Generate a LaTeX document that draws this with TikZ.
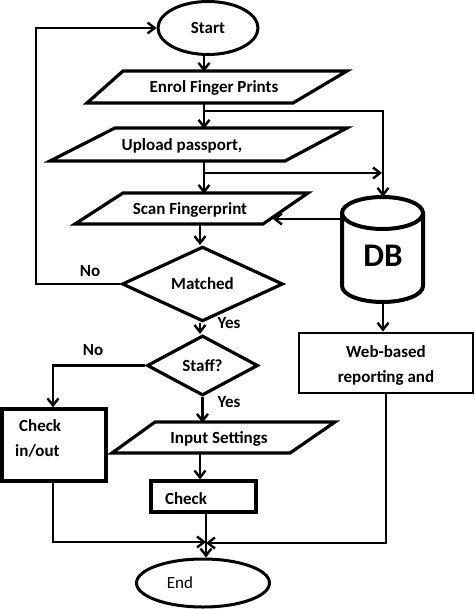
\documentclass[tikz,border=0pt]{standalone}
\usepackage{fontspec}
\setmainfont{Carlito}
\usetikzlibrary{arrows.meta,shapes.geometric}
\begin{document}
\begin{tikzpicture}[x=1pt,y=-1pt,
  line/.style={line width=2.4pt,line join=miter},
  arr/.style={line, -{Straight Barb[length=7pt,width=11pt,line width=2.4pt]}},
  para/.style={line width=3.2pt,line join=miter},
  txt/.style={font=\fontsize{17}{19}\selectfont\bfseries,inner sep=0pt},
  lbl/.style={font=\fontsize{17}{19}\selectfont\bfseries,inner sep=0pt},
  box/.style={draw,line width=3.4pt,rectangle,inner sep=0pt},
  dia/.style={draw,diamond,line width=3.2pt,inner sep=0pt,font=\fontsize{17}{19}\selectfont\bfseries}]
\useasboundingbox (0,0) rectangle (474,609);

% terminals
\node[draw,ellipse,line width=3pt,minimum width=100pt,minimum height=53pt,txt] (start) at (208,28) {Start};
\node[draw,ellipse,line width=3pt,minimum width=133pt,minimum height=48pt,inner sep=0pt] (end) at (203,583) {};
\node[font=\fontsize{17}{19}\selectfont,inner sep=0pt] (endtxt) at (180,583) {End};

% parallelograms (shape drawn, node for text / anchors)
\draw[para] (123,71) -- (347,71) -- (293,103) -- (87,103) -- cycle;
\node[txt,minimum height=32pt] (enrol) at (214,88) {Enrol Finger Prints};
\draw[para] (115,128) -- (347,128) -- (285,161) -- (50,161) -- cycle;
\node[txt,minimum height=33pt] (upload) at (182,145.5) {Upload passport,};
\draw[para] (123,193) -- (308,193) -- (263,224) -- (75,224) -- cycle;
\node[txt,minimum height=31pt] (scan) at (190,209.5) {Scan Fingerprint};
\draw[para] (155,422) -- (335,422) -- (290,453) -- (112,453) -- cycle;
\node[txt,minimum height=31pt] (input) at (219,438.5) {Input Settings};

% decisions
\node[dia,minimum width=161pt,minimum height=61pt] (matched) at (202.5,284) {Matched};
\node[dia,minimum width=111pt,minimum height=60pt] (staff) at (202.5,365.5) {Staff?};

% boxes
\node[box,minimum width=104pt,minimum height=72pt] (chkio) at (54,445) {};
\node[txt,align=left,anchor=north west,font=\fontsize{17}{25}\selectfont\bfseries] (chkiotxt) at (15,419) {\hspace{4pt}Check\\in/out};
\node[box,minimum width=105pt,minimum height=31pt,line width=3.2pt] (check) at (203.5,496.5) {};
\node[txt] (checktxt) at (186,498.5) {Check};
\node[draw,rectangle,line width=2.8pt,minimum width=174pt,minimum height=60pt,inner sep=0pt] (web) at (386,363) {};
\node[txt,align=center,font=\fontsize{17}{25}\selectfont\bfseries] (webtxt) at (386,365) {Web-based\\reporting and};

% database cylinder
\node[minimum width=81pt,minimum height=105pt,inner sep=0pt] (db) at (382.5,249.5) {};
\draw[line width=4pt] (342,213) -- (342,286) arc[start angle=180,end angle=360,x radius=40.5pt,y radius=16pt] -- (423,213);
\draw[line width=4pt] (382.5,213) ellipse[x radius=40.5pt,y radius=16pt];
\node[font=\fontsize{33}{35}\selectfont\bfseries,inner sep=0pt] (dbtxt) at (383,256) {DB};

% helper coordinates
\coordinate (cA) at (204,0);
\coordinate (cB) at (200,0);
\coordinate (cC) at (206,0);
\coordinate (cD) at (383,0);
\coordinate (cE) at (386,0);
\coordinate (loopx) at (36,0);
\coordinate (nox) at (53,0);
\coordinate (br1) at (0,111);
\coordinate (br2) at (0,173);
\coordinate (dbin) at (0,219);
\coordinate (mg1) at (0,542);
\coordinate (mg2) at (0,543);
\coordinate (scanr) at (273,219);

% connectors
\draw[arr] (start.south -| cA) -- (enrol.north -| cA);
\draw[arr] (enrol.south -| cA) -- (upload.north -| cA);
\draw[arr] (br1 -| cA) -- (br1 -| cD) -- (db.north -| cD);
\draw[arr] (upload.south -| cA) -- (scan.north -| cA);
\draw[arr] (br2 -| cA) -- ([xshift=-1pt]br2 -| cD);
\draw[arr] (dbin -| db.west) -- (scanr);
\draw[arr] (scan.south -| cB) -- (matched.north -| cB);
\draw[arr] (matched.west) -- (matched.west -| loopx) -- (start.west -| loopx) -- (start.west);
\draw[arr] (matched.south -| cB) -- (staff.north -| cB);
\draw[arr] (staff.west) -- (staff.west -| nox) -- (chkio.north -| nox);
\draw[arr] (staff.south) -- (input.north -| staff.south);
\draw[arr] (input.south -| cB) -- (check.north -| cB);
\draw[arr] (check.south -| cC) -- (end.north -| cC);
\draw[arr] (chkio.south -| nox) -- (mg1 -| nox) -- (mg1 -| cC);
\draw[arr] (web.south -| cE) -- (mg2 -| cE) -- (mg2 -| cC);
\draw[arr] (db.south -| cD) -- (web.north -| cD);

% labels
\node[lbl] (no1) at (90,271) {No};
\node[lbl] (yes1) at (229,323) {Yes};
\node[lbl] (no2) at (93,350) {No};
\node[lbl] (yes2) at (229,402) {Yes};
\end{tikzpicture}
\end{document}
